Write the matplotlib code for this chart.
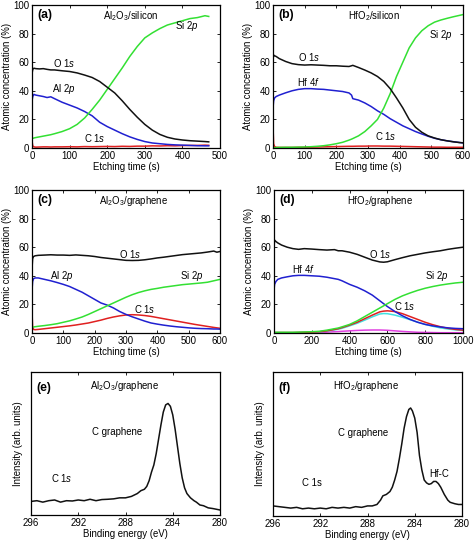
import matplotlib
matplotlib.use("Agg")
import matplotlib.pyplot as plt

plt.rcParams['font.family'] = ['Liberation Sans', 'DejaVu Sans']
plt.rcParams['mathtext.fontset'] = 'custom'
plt.rcParams['mathtext.rm'] = 'Liberation Sans'
plt.rcParams['mathtext.it'] = 'Liberation Sans:italic'
plt.rcParams['font.size'] = 6.9
plt.rcParams['axes.linewidth'] = 0.9

# (a) Al2O3 / silicon depth profile
ta = [0, 2, 5, 10, 20, 30, 40, 50, 60, 80, 100, 120, 140, 160, 180, 200, 220,
      240, 260, 280, 300, 320, 340, 360, 380, 400, 420, 440, 460, 470]
o1s_a = [52, 55, 55.8, 55.5, 55.3, 55.5, 55, 54.6, 54.6, 54, 53.5, 52.5, 51,
         49.3, 46.5, 42.5, 38.5, 33, 27, 21.5, 16.5, 12.5, 9.5, 7.5, 6.3, 5.6,
         5.1, 4.8, 4.5, 4.3]
al2p_a = [33, 36, 37.5, 37, 36.5, 36, 35.3, 35.8, 34.5, 32, 30, 28, 25.5, 22.5,
          18, 15, 12.5, 10, 7.8, 6, 4.5, 3.5, 3, 2.5, 2.2, 2, 1.8, 1.6, 1.5, 1.5]
si2p_a = [6.5, 6.7, 7, 7.3, 7.8, 8.3, 8.8, 9.3, 10, 11.5, 13.5, 16.5, 21, 27,
          33.5, 41, 48.5, 56, 64, 71, 77, 80.5, 83.5, 86, 87.5, 89, 90.5, 91.2,
          92.5, 92]
c1s_a = [5, 1.5, 0.8, 0.6, 0.7, 0.8, 0.8, 0.7, 0.8, 0.8, 0.9, 0.8, 1, 0.9, 1,
         1.1, 1, 1.2, 1.1, 1.3, 1.3, 1.5, 1.4, 1.6, 1.5, 1.7, 1.8, 1.8, 2, 1.9]

# (b) HfO2 / silicon depth profile
tb = [0, 2, 5, 10, 20, 40, 60, 80, 100, 120, 140, 160, 180, 200, 220, 240, 248,
      252, 270, 290, 310, 330, 350, 370, 390, 410, 430, 450, 470, 490, 510, 530,
      550, 570, 590, 600]
o1s_b = [62, 65, 64.5, 64, 62.5, 60.5, 59, 58.3, 58, 58.2, 58, 57.8, 57.5, 57.5,
         57.2, 57, 57.5, 57.8, 56.3, 54.5, 52.5, 50, 46.5, 41.5, 35, 28, 20,
         14.5, 11, 8.5, 7, 5.8, 5, 4.3, 3.8, 3.6]
hf4f_b = [28, 33, 35, 36, 37, 38.6, 40, 41, 41.5, 41.5, 41.2, 41, 40.5, 40,
          39.5, 38.5, 37, 34.5, 33.5, 31.5, 29, 26, 23.5, 20.5, 18, 15.5, 13.5,
          11.5, 9.8, 8.2, 6.8, 5.8, 5, 4.4, 3.8, 3.6]
si2p_b = [0, 0.2, 0.3, 0.3, 0.4, 0.5, 0.5, 0.6, 0.7, 0.9, 1.2, 1.6, 2.2, 3, 4,
          5.5, 6.2, 6.6, 8.5, 11.5, 15.5, 20, 28, 38, 50, 60, 70, 77, 82, 85.5,
          88, 89.5, 90.7, 91.8, 92.8, 93.3]
c1s_b = [15, 3, 1, 0.5, 0.4, 0.4, 0.4, 0.5, 0.5, 0.6, 0.7, 0.8, 0.9, 1, 1.1,
         1.2, 1.2, 1.2, 1.3, 1.3, 1.4, 1.4, 1.3, 1.3, 1.2, 1.1, 1, 0.9, 0.8,
         0.7, 0.6, 0.6, 0.5, 0.5, 0.5, 0.5]

# (c) Al2O3 / graphene depth profile
tc = [0, 2, 5, 10, 20, 40, 60, 80, 100, 120, 140, 160, 180, 200, 220, 240, 260,
      280, 300, 320, 340, 360, 380, 400, 420, 440, 460, 480, 500, 520, 540, 560,
      580, 590, 600]
o1s_c = [45, 52, 53.5, 54, 54.3, 54.5, 54.7, 54.5, 54.5, 54.3, 54.6, 54.3, 54,
         53.5, 52.8, 52.3, 51.8, 51.3, 50.8, 50.7, 50.8, 51.2, 51.8, 52.5, 53,
         53.6, 54.2, 54.8, 55.2, 55.6, 56, 56.6, 57.3, 56.5, 57]
al2p_c = [30, 36, 38, 38.5, 38.5, 37.5, 36.5, 35.3, 34, 32.5, 30.5, 28.5, 26,
          23.5, 21, 19.5, 17.5, 15, 13, 11.3, 9.8, 8.3, 7, 6.2, 5.5, 4.9, 4.4,
          4, 3.6, 3.3, 3.1, 3, 2.8, 2.8, 2.7]
si2p_c = [4, 4, 4.2, 4.4, 4.7, 5.2, 5.8, 6.5, 7.5, 8.5, 9.8, 11.2, 13, 15, 17,
          19, 21, 23, 25, 26.8, 28.3, 29.5, 30.5, 31.2, 32, 32.6, 33.2, 33.8,
          34.2, 34.6, 35, 35.5, 36.5, 37, 37.5]
c1s_c = [15, 4, 2.5, 2.3, 2.5, 3, 3.5, 4, 4.5, 5, 5.6, 6.3, 7, 8, 9, 10.2, 11.2,
         12, 12.6, 12.8, 12.6, 12.2, 11.6, 10.8, 10, 9.2, 8.4, 7.6, 6.8, 6, 5.3,
         4.6, 3.9, 3.6, 3.3]

# (d) HfO2 / graphene depth profile
td = [0, 3, 10, 20, 40, 70, 100, 130, 160, 200, 240, 280, 320, 340, 360, 400,
      440, 480, 520, 560, 580, 600, 640, 680, 720, 760, 800, 840, 880, 920, 960,
      1000]
o1s_d = [60, 65, 64, 63, 61.5, 60, 59, 58.5, 59, 58.7, 58.3, 58, 58.3, 57.5,
         57.5, 56.5, 55, 53, 51, 49.7, 49.5, 49.8, 51.3, 52.7, 54, 55, 56, 56.8,
         57.5, 58.5, 59.3, 60]
hf4f_d = [30, 34, 36, 37.5, 38.5, 39.3, 40, 40.3, 40.3, 40, 39.7, 39, 38, 37.5,
          36.5, 34, 32, 29.5, 26.5, 22.5, 20.5, 18.5, 15, 12, 9.5, 7.5, 6, 5,
          4.2, 3.6, 3.2, 3]
si2p_d = [0.5, 0.5, 0.5, 0.5, 0.5, 0.5, 0.5, 0.6, 0.7, 0.9, 1.2, 2, 3, 3.5, 4.3,
          6, 8.5, 11.5, 14.5, 17.5, 19, 20.5, 23.5, 26, 28, 29.8, 31.3, 32.5,
          33.5, 34.3, 35, 35.5]
c1s_d = [0.5, 0.3, 0.3, 0.3, 0.3, 0.3, 0.3, 0.4, 0.5, 0.6, 0.9, 1.5, 2.5, 3,
         3.8, 5.5, 7.5, 10, 12.5, 14.8, 15.3, 15.5, 15, 13.5, 11.5, 9.5, 7.5,
         5.8, 4.4, 3.3, 2.5, 2]
cx_d = [0.2, 0.2, 0.2, 0.2, 0.2, 0.2, 0.2, 0.3, 0.4, 0.5, 0.8, 1.3, 2.2, 2.7,
        3.3, 5, 6.8, 9, 11.3, 13.3, 13.6, 13.5, 12.5, 11, 9.3, 7.6, 6, 4.7, 3.6,
        2.8, 2.2, 1.8]
cy_d = [0.2, 0.2, 0.2, 0.2, 0.2, 0.2, 0.2, 0.2, 0.3, 0.3, 0.4, 0.6, 0.9, 1, 1.2,
        1.5, 1.8, 2, 2.1, 2.1, 2, 1.9, 1.5, 1.1, 0.8, 0.5, 0.4, 0.3, 0.2, 0.2,
        0.2, 0.2]

# (e) C 1s spectrum, Al2O3 / graphene
be_e = [296, 295.5, 295, 294.5, 294, 293.5, 293, 292.5, 292, 291.5, 291, 290.5,
        290, 289.5, 289, 288.5, 288, 287.5, 287, 286.7, 286.4, 286.2, 286,
        285.8, 285.6, 285.4, 285.2, 285, 284.8, 284.6, 284.4, 284.2, 284,
        283.8, 283.6, 283.4, 283.2, 283, 282.8, 282.5, 282.2, 282, 281.7, 281.4,
        281, 280.6, 280.3, 280]
int_e = [0.095, 0.1, 0.09, 0.1, 0.105, 0.09, 0.1, 0.098, 0.105, 0.1, 0.11, 0.1,
         0.108, 0.11, 0.113, 0.12, 0.12, 0.13, 0.15, 0.17, 0.18, 0.2, 0.24,
         0.3, 0.35, 0.43, 0.53, 0.63, 0.72, 0.77, 0.78, 0.76, 0.7, 0.6, 0.48,
         0.36, 0.26, 0.19, 0.15, 0.12, 0.1, 0.09, 0.07, 0.065, 0.05, 0.045,
         0.04, 0.035]

# (f) C 1s spectrum, HfO2 / graphene
be_f = [296, 295.5, 295, 294.5, 294, 293.5, 293, 292.5, 292, 291.5, 291, 290.5,
        290, 289.5, 289, 288.5, 288, 287.6, 287.2, 286.9, 286.7, 286.4, 286.1,
        285.9, 285.7, 285.5, 285.3, 285.1, 284.9, 284.7, 284.5, 284.35, 284.2,
        284, 283.8, 283.6, 283.4, 283.2, 283, 282.8, 282.6, 282.4, 282.2, 282,
        281.8, 281.5, 281.2, 281, 280.6, 280.3, 280]
int_f = [0.07, 0.065, 0.06, 0.055, 0.06, 0.05, 0.055, 0.05, 0.055, 0.05, 0.06,
         0.055, 0.06, 0.055, 0.065, 0.06, 0.07, 0.07, 0.08, 0.11, 0.14, 0.15,
         0.17, 0.2, 0.25, 0.31, 0.4, 0.5, 0.61, 0.69, 0.74, 0.75, 0.73, 0.68,
         0.58, 0.42, 0.32, 0.25, 0.23, 0.22, 0.225, 0.24, 0.24, 0.225, 0.2,
         0.15, 0.11, 0.095, 0.085, 0.08, 0.08]

black = '#111111'
blue = '#2020d0'
green = '#33e033'
red = '#e02020'
lw = 1.1

fig = plt.figure(figsize=(4.74, 5.43), dpi=100)
W, H = 474.0, 543.0


def make_axes(x0, x1, y0, y1):
    return fig.add_axes([x0 / W, 1 - y1 / H, (x1 - x0) / W, (y1 - y0) / H])


def style(ax):
    ax.tick_params(direction='in', top=True, right=True, length=2.5,
                   width=0.6, pad=2, labelsize=6.9)


def profile_axes(ax, xmax, xstep, tag, title, tx):
    style(ax)
    ax.set_xlim(0, xmax)
    ax.set_ylim(0, 100)
    ax.set_xticks(range(0, xmax + 1, xstep))
    ax.set_yticks(range(0, 101, 20))
    ax.set_xlabel('Etching time (s)', labelpad=1)
    ax.set_ylabel('Atomic concentration (%)', labelpad=1)
    ax.text(0.03, 0.93, tag, transform=ax.transAxes, fontsize=8.8,
            fontweight='bold', va='center')
    ax.text(tx, 92, title, ha='center', va='center')


# (a)
ax = make_axes(32, 220, 5, 148)
ax.plot(ta, c1s_a, color=red, lw=lw)
ax.plot(ta, al2p_a, color=blue, lw=lw)
ax.plot(ta, si2p_a, color=green, lw=lw)
ax.plot(ta, o1s_a, color=black, lw=lw)
profile_axes(ax, 500, 100, '(a)', r'Al$_2$O$_3$/silicon', 261)
ax.text(84, 59.5, r'O 1$\it{s}$', ha='center', va='center')
ax.text(84, 41, r'Al 2$\it{p}$', ha='center', va='center')
ax.text(168, 7, r'C 1$\it{s}$', ha='center', va='center')
ax.text(411, 85, r'Si 2$\it{p}$', ha='center', va='center')

# (b)
ax = make_axes(273, 463, 5, 148)
ax.plot(tb, c1s_b, color=red, lw=lw)
ax.plot(tb, hf4f_b, color=blue, lw=lw)
ax.plot(tb, si2p_b, color=green, lw=lw)
ax.plot(tb, o1s_b, color=black, lw=lw)
profile_axes(ax, 600, 100, '(b)', r'HfO$_2$/silicon', 318)
ax.text(115, 63.5, r'O 1$\it{s}$', ha='center', va='center')
ax.text(111, 46, r'Hf 4$\it{f}$', ha='center', va='center')
ax.text(356, 8.5, r'C 1$\it{s}$', ha='center', va='center')
ax.text(531, 79, r'Si 2$\it{p}$', ha='center', va='center')

# (c)
ax = make_axes(32, 220, 190, 333)
ax.plot(tc, c1s_c, color=red, lw=lw)
ax.plot(tc, al2p_c, color=blue, lw=lw)
ax.plot(tc, si2p_c, color=green, lw=lw)
ax.plot(tc, o1s_c, color=black, lw=lw)
profile_axes(ax, 600, 100, '(c)', r'Al$_2$O$_3$/graphene', 324)
ax.text(313, 55.5, r'O 1$\it{s}$', ha='center', va='center')
ax.text(96, 40, r'Al 2$\it{p}$', ha='center', va='center')
ax.text(360, 16.7, r'C 1$\it{s}$', ha='center', va='center')
ax.text(510, 40, r'Si 2$\it{p}$', ha='center', va='center')

# (d)
ax = make_axes(274, 463, 190, 333)
ax.plot(td, cy_d, color='#e040e0', lw=lw)
ax.plot(td, cx_d, color='#40e0e0', lw=lw)
ax.plot(td, c1s_d, color=red, lw=lw)
ax.plot(td, hf4f_d, color=blue, lw=lw)
ax.plot(td, si2p_d, color=green, lw=lw)
ax.plot(td, o1s_d, color=black, lw=lw)
profile_axes(ax, 1000, 200, '(d)', r'HfO$_2$/graphene', 563)
ax.text(560, 55, r'O 1$\it{s}$', ha='center', va='center')
ax.text(158, 45, r'Hf 4$\it{f}$', ha='center', va='center')
ax.text(690, 19, r'C 1$\it{s}$', ha='center', va='center')
ax.text(860, 40, r'Si 2$\it{p}$', ha='center', va='center')


def spectrum_axes(ax, tag, title):
    style(ax)
    ax.set_xlim(296, 280)
    ax.set_ylim(0, 1)
    ax.set_xticks([296, 292, 288, 284, 280])
    ax.set_yticks([])
    ax.set_xlabel('Binding energy (eV)', labelpad=1)
    ax.set_ylabel('Intensity (arb. units)', labelpad=6)
    ax.text(0.03, 0.89, tag, transform=ax.transAxes, fontsize=8.8,
            fontweight='bold', va='center')
    ax.text(288.1, 0.9, title, ha='center', va='center')


# (e)
ax = make_axes(31, 220, 372, 515)
ax.plot(be_e, int_e, color=black, lw=lw)
spectrum_axes(ax, '(e)', r'Al$_2$O$_3$/graphene')
ax.text(288.7, 0.58, 'C graphene', ha='center', va='center')
ax.text(293.4, 0.26, r'C 1$\it{s}$', ha='center', va='center')

# (f)
ax = make_axes(273, 462, 372, 516)
ax.plot(be_f, int_f, color=black, lw=lw)
spectrum_axes(ax, '(f)', r'HfO$_2$/graphene')
ax.text(288.35, 0.575, 'C graphene', ha='center', va='center')
ax.text(292.7, 0.23, 'C 1s', ha='center', va='center')
ax.text(281.9, 0.29, 'Hf-C', ha='center', va='center')

fig.savefig('out.png', dpi=100)
